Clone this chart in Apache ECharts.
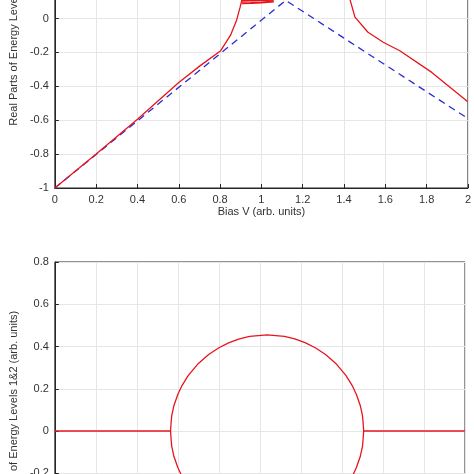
<!DOCTYPE html>
<html><head><meta charset="utf-8">
<script src="https://cdn.jsdelivr.net/npm/echarts@6/dist/echarts.min.js"></script>
<style>html,body{margin:0;padding:0;background:#fff;overflow:hidden;width:474px;height:474px}#c{width:474px;height:800px;margin-top:-170px}</style>
</head><body><div id="c"></div>
<script>
const xTicks = [0,0.2,0.4,0.6,0.8,1,1.2,1.4,1.6,1.8,2];
const redLeft = [[0,-1],[0.2,-0.8],[0.4,-0.595],[0.6,-0.377],[0.704,-0.278],[0.803,-0.19],[0.85,-0.1],[0.88,-0.01],[0.897,0.067],[0.905,0.107],[0.91,0.2]];
const redTopA = [[0.905,0.09],[0.95,0.092],[1.0,0.095],[1.06,0.1]];
const redTopB = [[0.905,0.105],[0.95,0.106],[1.0,0.108],[1.06,0.11]];
const redRight = [[1.428,0.2],[1.43,0.107],[1.453,0.008],[1.516,-0.081],[1.59,-0.14],[1.67,-0.19],[1.825,-0.318],[1.998,-0.49]];
const blueDash = [[0,-1],[1.118,0.107],[2,-0.59]];
const imagFlatL = [[0,0],[0.564,0]];
const imagFlatR = [[1.506,0],[2,0]];
const imagUpper = [[0.564,0],[0.567,0.04],[0.57,0.073],[0.58,0.118],[0.6,0.174],[0.62,0.215],[0.65,0.262],[0.7,0.32],[0.75,0.362],[0.8,0.394],[0.85,0.418],[0.9,0.436],[0.95,0.448],[1.035,0.455],[1.12,0.448],[1.17,0.436],[1.22,0.418],[1.27,0.394],[1.32,0.362],[1.37,0.32],[1.42,0.262],[1.45,0.215],[1.47,0.174],[1.49,0.118],[1.5,0.073],[1.503,0.04],[1.506,0]];
const imagLower = [[0.564,0],[0.567,-0.04],[0.57,-0.073],[0.58,-0.118],[0.6,-0.174],[0.62,-0.215],[0.65,-0.262],[0.7,-0.32],[0.75,-0.362],[0.8,-0.394],[0.85,-0.418],[0.9,-0.436],[0.95,-0.448],[1.035,-0.455],[1.12,-0.448],[1.17,-0.436],[1.22,-0.418],[1.27,-0.394],[1.32,-0.362],[1.37,-0.32],[1.42,-0.262],[1.45,-0.215],[1.47,-0.174],[1.49,-0.118],[1.5,-0.073],[1.503,-0.04],[1.506,0]];

const font = 'Liberation Sans';
function axX(gi, name){return {type:'value',gridIndex:gi,min:0,max:2,interval:0.2,name:name,nameLocation:'middle',nameGap:18,
  nameTextStyle:{fontFamily:font,fontSize:11,color:'#333'},
  axisLine:{onZero:false,lineStyle:{color:'#262626'}},axisTick:{inside:true,length:4,lineStyle:{color:'#262626'}},
  axisLabel:{fontFamily:font,fontSize:11,color:'#333',margin:6,formatter:v=>String(+v.toFixed(1))},
  splitLine:{show:true,lineStyle:{color:'#e6e6e6'}}};}
function axY(gi,min,max,name){return {type:'value',gridIndex:gi,min:min,max:max,interval:0.2,name:name,nameLocation:'middle',nameGap:26,
  nameTextStyle:{fontFamily:font,fontSize:11,color:'#333'},
  axisLine:{lineStyle:{color:'#262626'}},axisTick:{inside:true,length:4,lineStyle:{color:'#262626'}},
  axisLabel:{fontFamily:font,fontSize:11,color:'#333',margin:6,formatter:v=>String(+v.toFixed(1))},
  splitLine:{show:true,lineStyle:{color:'#e6e6e6'}}};}
const red = {color:'#e8141c',width:1.3};
function ln(data,xi,style){return {type:'line',xAxisIndex:xi,yAxisIndex:xi,data:data,showSymbol:false,lineStyle:style,silent:true,animation:false};}
const chart = echarts.init(document.getElementById('c'));
chart.setOption({
  animation:false,
  grid:[{left:40,right:3,top:19,bottom:442,show:true,borderColor:'#262626',borderWidth:1},
        {left:36,right:9,top:432,bottom:30,show:true,borderColor:'#262626',borderWidth:1}],
  xAxis:[axX(0,'Bias V (arb. units)'),axX(1,'Bias V (arb. units)')],
  yAxis:[axY(0,-1,1,'Real Parts of Energy Levels 1&2 (arb. units)'),axY(1,-0.8,0.8,'Imaginary Parts of Energy Levels 1&2 (arb. units)')],
  series:[
    ln(blueDash,0,{color:'#2b2bd6',width:1.3,type:[7,5]}),
    ln(redLeft,0,red),ln(redTopA,0,{color:'#e8141c',width:2}),ln(redTopB,0,{color:'#e8141c',width:2}),ln(redRight,0,red),
    ln(imagFlatL,1,red),ln(imagFlatR,1,red),
    ln(imagUpper,1,red),ln(imagLower,1,red)
  ]
});
</script></body></html>
